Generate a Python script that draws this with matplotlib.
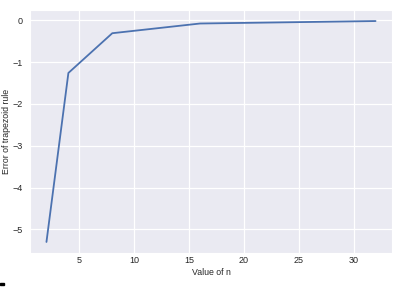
import numpy as np
import matplotlib
matplotlib.use("Agg")
import matplotlib.pyplot as plt
import seaborn as sns

# number of subintervals and the error of the trapezoid rule
n_values = [2, 4, 8, 16, 32]
errors = [-5.30, -1.26, -0.31, -0.078, -0.019]

sns.set_style("darkgrid")
plt.rcParams['font.family'] = ['Liberation Sans', 'DejaVu Sans']

fig = plt.figure(figsize=(4.0, 2.89), dpi=100)
ax = fig.add_axes([30/400, 1 - 253/289, 362/400, 243/289])
ax.plot(n_values, errors, color="#4C72B0", linewidth=1.3)
ax.grid(True, color="white", linewidth=0.9)
ax.set_xlabel("Value of n", fontsize=6.3, color=".15")
ax.set_ylabel("Error of trapezoid rule", fontsize=6.3, color=".15")
ax.xaxis.set_label_coords(0.5, -0.062)
ax.yaxis.set_label_coords(-0.052, 0.5)
ax.tick_params(labelsize=6.5, colors=".15", length=0)
ax.tick_params(axis="x", pad=2.5)
ax.tick_params(axis="y", pad=5)
ax.set_xticks([5, 10, 15, 20, 25, 30])
ax.set_yticks([0, -1, -2, -3, -4, -5])
ax.set_yticklabels(["0", "\u22121", "\u22122", "\u22123", "\u22124", "\u22125"])

# small dark tick left at the bottom-left corner of the original image
fig.patches.append(plt.Rectangle((0, 4/289), 4/400, 2/289, transform=fig.transFigure,
                                 color="black", figure=fig))

fig.savefig("out.png", dpi=100)
